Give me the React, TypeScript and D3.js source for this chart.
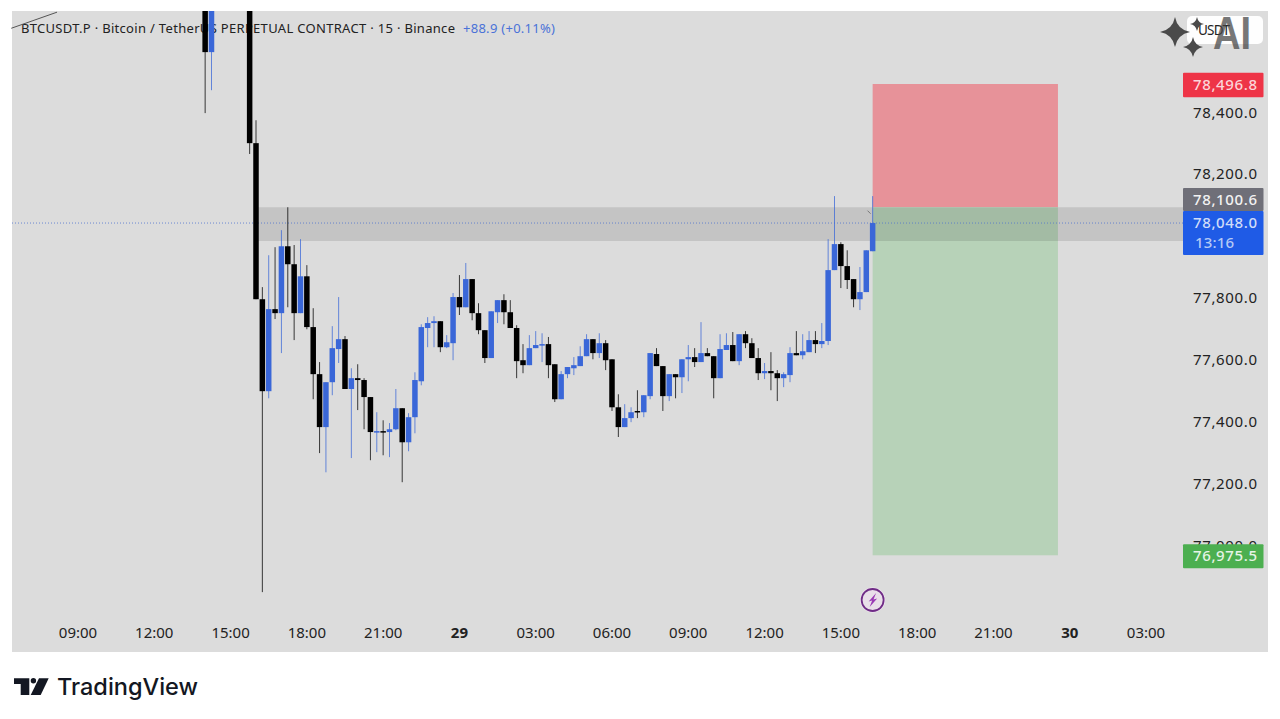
import React from 'react';
import * as d3 from 'd3';

// 15 minute bars, bar 0 = 09:00 on the 28th. Bars 22-26 sit above the visible range.
const firstBar = 20;
const opens = [78860, 78595, null, null, null, null, null, 78860, 78301, 77797,
  77500, 77765, 77752, 77968, 77910, 77752, 77871, 77707, 77555, 77384,
  77529, 77636, 77668, 77507, 77542, 77536, 77481, 77368, 77371, 77368,
  77377, 77445, 77335, 77416, 77532, 77704, 77720, 77726, 77642, 77655,
  77804, 77771, 77862, 77752, 77697, 77607, 77755, 77794, 77755, 77704,
  77600, 77584, 77639, 77649, 77652, 77587, 77474, 77555, 77574, 77581,
  77613, 77668, 77623, 77655, 77603, 77448, 77384, 77413, 77436, 77432,
  77484, 77620, 77581, 77484, 77555, 77545, 77603, 77610, 77594, 77623,
  77613, 77542, 77633, 77649, 77597, 77684, 77655, 77607, 77558, 77565,
  77558, 77542, 77552, 77623, 77616, 77626, 77665, 77652, 77662, 77891,
  77975, 77904, 77862, 77797, 77820, 77952];
const highs = [78900, 78900, null, null, null, null, null, 78900, 78375, 77836,
  77939, 77965, 78020, 78094, 77972, 77991, 77907, 77768, 77594, 77529,
  77710, 77804, 77678, 77574, 77587, 77542, 77481, 77432, 77406, 77397,
  77507, 77445, 77429, 77561, 77716, 77739, 77742, 77726, 77681, 77817,
  77875, 77914, 77862, 77784, 77697, 77758, 77794, 77813, 77794, 77713,
  77652, 77681, 77694, 77687, 77675, 77587, 77565, 77578, 77610, 77645,
  77684, 77668, 77687, 77665, 77603, 77490, 77458, 77448, 77503, 77487,
  77623, 77639, 77581, 77555, 77555, 77603, 77649, 77639, 77723, 77639,
  77613, 77684, 77687, 77691, 77684, 77694, 77671, 77639, 77591, 77626,
  77568, 77561, 77642, 77694, 77684, 77694, 77694, 77720, 77991, 78130,
  77981, 77955, 77862, 77901, 77955, 78130];
const lows = [78398, 78472, null, null, null, null, null, 78266, 77797, 76851,
  77477, 77733, 77623, 77771, 77665, 77752, 77700, 77474, 77300, 77238,
  77487, 77591, 77507, 77284, 77439, 77377, 77277, 77303, 77293, 77287,
  77374, 77206, 77306, 77364, 77519, 77642, 77642, 77626, 77639, 77600,
  77746, 77771, 77729, 77684, 77591, 77607, 77720, 77716, 77704, 77542,
  77558, 77584, 77639, 77594, 77542, 77465, 77474, 77542, 77552, 77581,
  77613, 77603, 77607, 77568, 77436, 77352, 77384, 77400, 77413, 77416,
  77474, 77581, 77436, 77468, 77477, 77494, 77532, 77578, 77594, 77613,
  77477, 77542, 77633, 77597, 77584, 77639, 77607, 77536, 77539, 77503,
  77468, 77513, 77529, 77616, 77603, 77626, 77623, 77639, 77649, 77891,
  77833, 77830, 77771, 77762, 77820, 77952];
const closes = [78595, 78860, null, null, null, null, null, 78301, 77797, 77500,
  77765, 77752, 77968, 77910, 77752, 77871, 77707, 77555, 77384, 77529,
  77639, 77668, 77507, 77542, 77536, 77481, 77368, 77371, 77368, 77377,
  77445, 77335, 77416, 77536, 77707, 77720, 77726, 77642, 77658, 77804,
  77771, 77862, 77752, 77697, 77607, 77758, 77794, 77755, 77704, 77597,
  77584, 77639, 77649, 77652, 77584, 77474, 77555, 77578, 77584, 77613,
  77668, 77623, 77655, 77600, 77448, 77384, 77413, 77432, 77432, 77487,
  77623, 77581, 77484, 77555, 77545, 77603, 77610, 77594, 77623, 77613,
  77542, 77636, 77649, 77597, 77684, 77655, 77607, 77558, 77565, 77558,
  77542, 77555, 77623, 77616, 77629, 77665, 77652, 77662, 77891, 77975,
  77904, 77859, 77797, 77820, 77955, 78043];

// 78,000.0 is hidden behind the live price tag in the reference
const priceTicks = [78400, 78200, 77800, 77600, 77400, 77200, 77000];
const timeTicks = [0, 12, 24, 36, 48, 60, 72, 84, 96, 108, 120, 132, 144, 156, 168];
const timeLabels = ['09:00', '12:00', '15:00', '18:00', '21:00', '29', '03:00', '06:00', '09:00', '12:00', '15:00', '18:00', '21:00', '30', '03:00'];

// short position tool and the supply zone
const positionBars = [125, 154.15];
const stopPrice = 78492;
const entryPrice = 78094;
const targetPrice = 76970;
const zoneTop = 78094;
const zoneBottom = 77985;
const zoneStartBar = 28;
const trendBars = [-10.5, -3.3];
const trendPrices = [78672, 78724];

const fmt = d3.format(',.1f');
const sans = '"Noto Sans", "Open Sans", sans-serif';
const BLUE = '#3a67d8';
const PANEL = { l: 12, r: 1268, t: 11, b: 652 };
const AXIS_X = 1183;
const PRICE_W = 64;

const x = d3.scaleLinear().domain([0, 168]).range([78, 1146]);
const y = d3.scaleLinear().domain([78400, 77000]).range([112.5, 546]);

const star = (cx: number, cy: number, r: number) => {
  const k = r * 0.16;
  return `M${cx},${cy - r}Q${cx + k},${cy - k} ${cx + r},${cy}Q${cx + k},${cy + k} ${cx},${cy + r}Q${cx - k},${cy + k} ${cx - r},${cy}Q${cx - k},${cy - k} ${cx},${cy - r}Z`;
};

const PriceTag = ({ cy, h, fill, color = '#f2f2f2', text }: { cy: number; h: number; fill: string; color?: string; text: string }) => (
  <g>
    <rect x={AXIS_X} y={cy - h / 2} width={80.5} height={h} fill={fill} rx={1} />
    <text x={1193} y={cy + 5} fontSize={15} fontWeight={500} fill={color} fontFamily={sans} textLength={PRICE_W}>{text}</text>
  </g>
);

export default function App() {
  const boxL = x(positionBars[0]);
  const boxR = x(positionBars[1]);
  const bodyW = 5.5;
  const lastY = y(closes[closes.length - 1] as number);

  return (
    <svg width={1280} height={719} style={{ position: 'absolute', left: 0, top: 0, background: '#fff' }}>
      <defs>
        <clipPath id="plot"><rect x={PANEL.l} y={PANEL.t} width={AXIS_X - PANEL.l} height={PANEL.b - PANEL.t} /></clipPath>
      </defs>
      <rect x={PANEL.l} y={PANEL.t} width={PANEL.r - PANEL.l} height={PANEL.b - PANEL.t} fill="#dcdcdc" />

      {/* legend sits behind the candles */}
      <text x={21} y={33} fontSize={13} fill="#222" fontFamily={sans} textLength={434}>BTCUSDT.P · Bitcoin / TetherUS PERPETUAL CONTRACT · 15 · Binance</text>
      <text x={463} y={33} fontSize={13} fill="#4a72d8" fontFamily={sans} textLength={92}>+88.9 (+0.11%)</text>

      <line x1={x(trendBars[0])} x2={x(trendBars[1])} y1={y(trendPrices[0])} y2={y(trendPrices[1])} stroke="#555" strokeWidth={1} />

      <g clipPath="url(#plot)">
        <rect x={boxL} y={y(stopPrice)} width={boxR - boxL} height={y(entryPrice) - y(stopPrice)} fill="#e79299" />
        <rect x={boxL} y={y(entryPrice)} width={boxR - boxL} height={y(targetPrice) - y(entryPrice)} fill="#b7d2b8" />
        <rect x={x(zoneStartBar)} y={y(zoneTop)} width={AXIS_X - x(zoneStartBar)} height={y(zoneBottom) - y(zoneTop)} fill="#000" fillOpacity={0.105} />
        <line x1={PANEL.l} x2={AXIS_X} y1={lastY} y2={lastY} stroke="#4f74cf" strokeWidth={1} strokeDasharray="1 2" opacity={0.8} />

        {opens.map((o, i) => {
          if (o === null) return null;
          const c = closes[i] as number;
          const cx = x(firstBar + i);
          const color = c >= o ? BLUE : '#000';
          const top = y(Math.max(o, c));
          const bottom = y(Math.min(o, c));
          return (
            <g key={i}>
              <line x1={cx} x2={cx} y1={y(highs[i] as number)} y2={y(lows[i] as number)} stroke={color} strokeWidth={1} opacity={0.75} />
              <rect x={cx - bodyW / 2} y={top} width={bodyW} height={Math.max(bottom - top, 1.5)} fill={color} />
            </g>
          );
        })}
        <path d={`M${x(124.2)},${y(78083)}l3,3`} stroke="#777" strokeWidth={1} fill="none" />
      </g>

      {/* price axis */}
      {priceTicks.map(p => (
        <text key={p} x={1193} y={y(p) + 5} fontSize={15} fill="#222" fontFamily={sans} textLength={PRICE_W}>{fmt(p)}</text>
      ))}
      <PriceTag cy={y(stopPrice) + 1} h={24.5} fill="#ee3447" color="#fbd5d9" text={fmt(78496.8)} />
      <PriceTag cy={199.5} h={23} fill="#6f6f78" text={fmt(78100.6)} />
      <g>
        <rect x={AXIS_X} y={211} width={80.5} height={44} fill="#1f5be6" rx={1} />
        <text x={1193} y={228} fontSize={15} fontWeight={500} fill="#cfdcf8" fontFamily={sans} textLength={PRICE_W}>{fmt(78048)}</text>
        <text x={1195} y={248} fontSize={15} fontWeight={500} fill="#b5c9f5" fontFamily={sans} textLength={39}>13:16</text>
      </g>
      <PriceTag cy={y(targetPrice) + 1} h={24} fill="#4caf50" color="#e6f4e6" text={fmt(76975.5)} />

      {/* time axis */}
      {timeTicks.map((t, i) => {
        const major = timeLabels[i].length < 3;
        return (
          <text key={t} x={x(t)} y={638} textAnchor="middle" fontSize={15} fontWeight={major ? 700 : 400} fill="#222" fontFamily={sans}>{timeLabels[i]}</text>
        );
      })}

      {/* earnings style marker */}
      <circle cx={x(125)} cy={600} r={12.5} fill="#f7e8f7" />
      <circle cx={x(125)} cy={600} r={11} fill="#e9dfe9" stroke="#6f2c86" strokeWidth={1.8} />
      <path d={`M${x(125) + 3.5},${593}L${x(125) - 4},${601.5}L${x(125) - 0.5},${600.5}L${x(125) - 3},${607}L${x(125) + 4.5},${598.5}L${x(125) + 0.8},${599.5}Z`} fill="#9a3ab5" />

      {/* top right currency button and watermark */}
      <rect x={1187} y={16} width={76} height={28} rx={5} fill="#fff" opacity={0.95} />
      <text x={1198} y={35} fontSize={13.5} fill="#222" fontFamily={sans} textLength={32}>USDT</text>
      <text x={1213} y={49} fontSize={47} fontWeight={700} fill="#444" opacity={0.72} fontFamily='"Liberation Sans", sans-serif' textLength={38} lengthAdjust="spacingAndGlyphs">AI</text>
      <path d={star(1175, 32, 15)} fill="#4a4a4a" />
      <path d={star(1193, 47, 10)} fill="#4a4a4a" />
      <path d={star(1197, 24, 7)} fill="#4a4a4a" />

      {/* TradingView logo */}
      <g fill="#131722">
        <path d="M14,678.3H29.3V695H20.7V684H14Z" />
        <circle cx={33.4} cy={680.8} r={2.7} />
        <path d="M39,678.3H48.7L40.7,695H30.7Z" />
      </g>
      <text x={57} y={695} fontSize={23.5} fontWeight={500} fill="#131722" fontFamily="Inter, sans-serif" textLength={141}>TradingView</text>
    </svg>
  );
}
